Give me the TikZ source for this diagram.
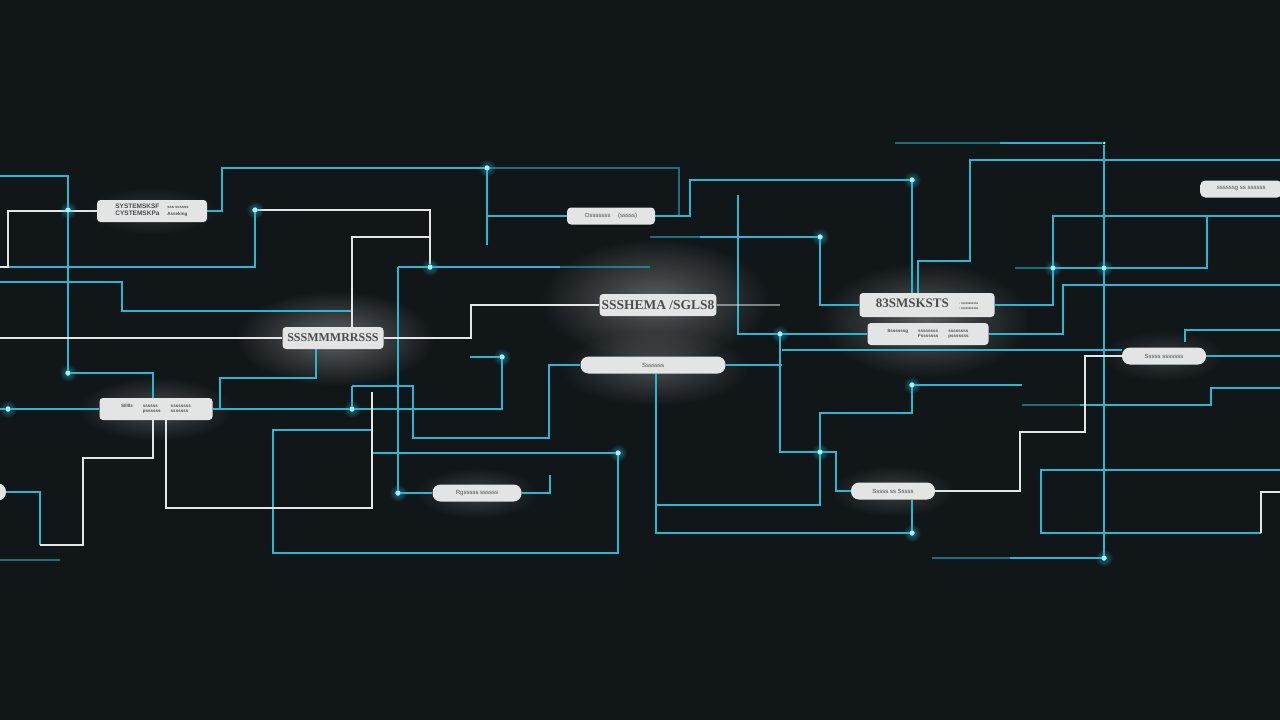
\documentclass[tikz,border=0pt]{standalone}
\usepackage{fontspec}
\setmainfont{Liberation Sans}
\newfontfamily\bigf{Liberation Serif}
\usetikzlibrary{fadings}
\definecolor{bgc}{HTML}{111618}
\definecolor{cy}{HTML}{2DB5D2}
\definecolor{cyd}{HTML}{9FF3FF}
\definecolor{wl}{HTML}{E4E6E6}
\definecolor{nf}{HTML}{E3E4E4}
\definecolor{nt}{HTML}{4A4C4E}
\pgfdeclarelayer{glowlayer}
\pgfdeclarelayer{linelayer}
\pgfsetlayers{glowlayer,linelayer,main}
\tikzfading[name=glowfade, inner color=transparent!10, outer color=transparent!100]
\tikzset{
  cl/.style={draw=cy, line width=1.5pt},
  clf/.style={draw=cy, line width=1.2pt, opacity=0.55},
  wline/.style={draw=wl, line width=1.9pt},
  boxn/.style={fill=nf, rounded corners=3.5pt, inner sep=2pt, text=nt,
     font=\fontsize{6.5}{7}\selectfont\bfseries, align=center, minimum height=22pt},
  pill/.style={boxn, rounded corners=8pt, minimum height=17pt, font=\fontsize{6}{6}\selectfont},
  dotn/.style={circle, fill=cyd, inner sep=0pt, minimum size=5pt},
}
\begin{document}
\begin{tikzpicture}[x=1pt,y=-1pt]
\begin{pgfonlayer}{glowlayer}
\fill[bgc] (0,0) rectangle (1280,720);
% soft glows
\fill[white, opacity=0.36, path fading=glowfade] (335,338) ellipse (100pt and 48pt);
\fill[white, opacity=0.34, path fading=glowfade] (655,300) ellipse (115pt and 62pt);
\fill[white, opacity=0.25, path fading=glowfade] (655,368) ellipse (95pt and 38pt);
\fill[white, opacity=0.32, path fading=glowfade] (925,320) ellipse (105pt and 58pt);
\fill[white, opacity=0.25, path fading=glowfade] (156,409) ellipse (78pt and 32pt);
\fill[white, opacity=0.2, path fading=glowfade] (477,493) ellipse (62pt and 26pt);
\fill[white, opacity=0.2, path fading=glowfade] (893,491) ellipse (62pt and 26pt);
\fill[white, opacity=0.17, path fading=glowfade] (1164,356) ellipse (62pt and 26pt);
\fill[white, opacity=0.14, path fading=glowfade] (152,211) ellipse (68pt and 24pt);
\end{pgfonlayer}
\useasboundingbox (0,0) rectangle (1280,720);

% junction dots
\node[dotn] (d1) at (68,210) {};
\node[dotn] (d2) at (68,373) {};
\node[dotn] (d3) at (255,210) {};
\node[dotn] (d4) at (487,168) {};
\node[dotn] (d5) at (8,409) {};
\node[dotn] (d6) at (502,357) {};
\node[dotn] (d7) at (352,409) {};
\node[dotn] (d8) at (430,267) {};
\node[dotn] (d9) at (398,493) {};
\node[dotn] (d10) at (618,453) {};
\node[dotn] (d11) at (912,180) {};
\node[dotn] (d12) at (780,334) {};
\node[dotn] (d13) at (820,237) {};
\node[dotn] (d14) at (820,452) {};
\node[dotn] (d15) at (912,385) {};
\node[dotn] (d16) at (912,533) {};
\node[dotn] (d17) at (1104,268) {};
\node[dotn] (d18) at (1104,558) {};
\node[dotn] (d19) at (1053,268) {};
\node[dotn, minimum size=3pt] (d20) at (1104,143) {};

% nodes
\node[boxn, minimum width=110pt] (n1) at (152,211)
  {\begin{tabular}{@{}l@{\hspace{8pt}}l@{}}SYSTEMSKSF & \fontsize{4}{4}\selectfont sss ssssss\\ CYSTEMSKPa & \fontsize{4.5}{5}\selectfont Asseking\end{tabular}};
\node[boxn, minimum width=101pt, font=\bigf\fontsize{12}{10}\selectfont\bfseries] (n2) at (333,338) {SSSMMMRRSSS};
\node[boxn, minimum width=115pt, font=\bigf\fontsize{13.5}{11}\selectfont\bfseries] (n3) at (658,305) {SSSHEMA /SGLS8};
\node[boxn, minimum width=113pt, font=\fontsize{4.5}{5}\selectfont\bfseries] (n4) at (156,409)
  {\begin{tabular}{@{}l@{\hspace{10pt}}l@{\hspace{10pt}}l@{}}Sllllls & ssssss & ssssssss\\ & pssssss & sssssss\end{tabular}};
\node[boxn, minimum width=135pt, minimum height=24pt, font=\bigf\fontsize{13}{10}\selectfont\bfseries] (n5) at (927,305)
  {83SMSKSTS\hspace{10pt}{\fontsize{4}{5}\selectfont\begin{tabular}{@{}l@{}}- sssssssssss\\ - sssssssssss\end{tabular}}};
\node[boxn, minimum width=121pt, font=\fontsize{4.5}{5}\selectfont\bfseries] (n5b) at (928,334)
  {\begin{tabular}{@{}l@{\hspace{10pt}}l@{\hspace{10pt}}l@{}}Sssssssg & ssssssss & ssssssss\\ & Fsssssss & psssssss\end{tabular}};
\node[pill, minimum width=84pt] (n6) at (893,491) {Sssss ss Sssss};
\node[pill, minimum width=84pt] (n7) at (1164,356) {Sssss sssssss};
\node[pill, minimum width=145pt] (n8) at (653,365) {Sssssss};
\node[pill, minimum width=89pt] (n9) at (477,493) {Rgsssss ssssss};
\node[pill, minimum width=88pt, rounded corners=4pt] (n10) at (611,216) {Osssssss \hspace{6pt}(sssss)};
\node[pill, minimum width=82pt, anchor=west, rounded corners=5pt] (n11) at (1200,189) {ssssssg ss ssssss};
\node[pill, minimum width=20pt] (n12) at (-4,492) {};

\begin{pgfonlayer}{linelayer}
% cyan connectors
\draw[cl] (0,176) -- (68,176) -- (d1) -- (d2);
\draw[cl] (d2) -- (153,373) -- (153,398);
\draw[cl] (0,267) -- (255,267) -- (d3);
\draw[cl] (0,282) -- (122,282) -- (122,311) -- (352,311);
\draw[cl] (n1.east) -- (222,211) -- (222,168) -- (d4) -- (487,245);
\draw[clf] (d4) -- (679,168) -- (679,216);
\draw[cl] (487,216) -- (n10.west);
\draw[cl] (0,409) -- (d5) -- (n4.west);
\draw[cl] (n4.east) -- (d7) -- (502,409) -- (d6) -- (470,357);
\draw[cl] (220,409) -- (220,378) -- (316,378) -- (316,348);
\draw[cl] (352,386) -- (d7);
\draw[cl] (352,386) -- (413,386) -- (413,438) -- (549,438) -- (549,365) -- (n8.west);
\draw[cl] (398,267) -- (d9) -- (n9.west);
\draw[cl] (n9.east) -- (550,493) -- (550,475);
\draw[cl] (398,267) -- (d8) -- (560,267);
\draw[clf] (560,267) -- (650,267);
\draw[cl] (372,430) -- (273,430) -- (273,553) -- (618,553) -- (d10) -- (372,453);
\draw[cl] (n10.east) -- (690,216) -- (690,180) -- (d11) -- (912,293);
\draw[cl] (738,195) -- (738,334) -- (d12);
\draw[cl] (d12) -- (n5b.west);
\draw[clf] (650,237) -- (700,237);
\draw[cl] (700,237) -- (d13) -- (820,305) -- (n5.west);
\draw[cl] (d12) -- (780,452) -- (d14);
\draw[cl] (d14) -- (820,413) -- (912,413) -- (d15) -- (1022,385);
\draw[cl] (656,374) -- (656,533) -- (d16) -- (912,500);
\draw[cl] (656,505) -- (820,505) -- (d14);
\draw[cl] (d14) -- (836,452) -- (836,491) -- (n6.west);
\draw[cl] (n8.east) -- (782,365);
\draw[cl] (782,350) -- (1122,350);
\draw[clf] (895,143) -- (1000,143);
\draw[cl] (1000,143) -- (d20) -- (d17) -- (d18);
\draw[cl] (918,293) -- (918,261) -- (970,261) -- (970,160) -- (1280,160);
\draw[cl] (n5.east) -- (1053,305) -- (d19) -- (1053,216) -- (1280,216);
\draw[clf] (1015,268) -- (d19);
\draw[cl] (d19) -- (d17) -- (1207,268) -- (1207,216);
\draw[cl] (n5b.east) -- (1063,334) -- (1063,285) -- (1280,285);
\draw[cl] (1185,342) -- (1185,330) -- (1280,330);
\draw[cl] (n7.east) -- (1280,356);
\draw[clf] (1022,405) -- (1080,405);
\draw[cl] (1080,405) -- (1211,405) -- (1211,388) -- (1280,388);
\draw[cl] (1280,470) -- (1041,470) -- (1041,533) -- (1261,533);
\draw[clf] (932,558) -- (1010,558);
\draw[cl] (1010,558) -- (d18);
\draw[cl] (n12.east) -- (40,492) -- (40,545);
\draw[clf] (0,560) -- (60,560);

% white connectors
\draw[wline] (0,267) -- (8,267) -- (8,211) -- (n1.west);
\draw[wline] (0,338) -- (n2.west);
\draw[wline] (n2.east) -- (471,338) -- (471,305) -- (n3.west);
\draw[wline] (352,327) -- (352,237) -- (430,237);
\draw[wline] (d3) -- (430,210) -- (d8);
\draw[wline, opacity=0.5] (n3.east) -- (780,305);
\draw[wline] (372,392) -- (372,508) -- (166,508) -- (166,420);
\draw[wline] (n6.east) -- (1020,491) -- (1020,432) -- (1085,432) -- (1085,356) -- (n7.west);
\draw[wline] (1261,533) -- (1261,492) -- (1280,492);
\draw[wline] (40,545) -- (83,545) -- (83,458) -- (153,458) -- (153,420);
\end{pgfonlayer}

% dot glows
\foreach \d in {d1,d2,d3,d4,d5,d6,d7,d8,d9,d10,d11,d12,d13,d14,d15,d16,d17,d18,d19}{
  \fill[cy, opacity=0.6, path fading=glowfade] (\d) circle (9pt);
  \fill[cyd] (\d) circle (2.6pt);
}
\end{tikzpicture}
\end{document}
